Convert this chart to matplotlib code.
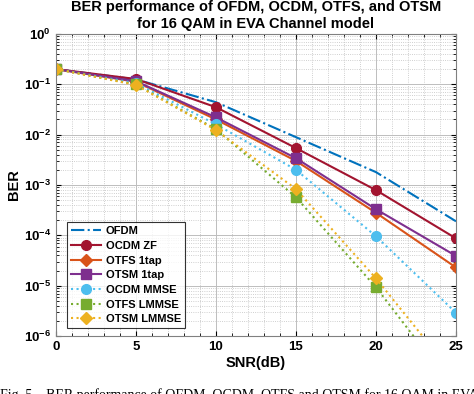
import matplotlib.pyplot as plt
import numpy as np
from matplotlib.ticker import LogLocator, MultipleLocator, NullFormatter

plt.rcParams['font.family'] = ['Liberation Sans', 'DejaVu Sans']

snr = [0, 5, 10, 15, 20, 25]

ofdm = [0.2, 0.125, 0.044, 0.0089, 0.0018, 1.9e-4]
ocdm_zf = [0.2, 0.127, 0.035, 0.0054, 7.9e-4, 8.7e-5]
otfs_1tap = [0.2, 0.112, 0.020, 0.0030, 2.8e-4, 2.3e-5]
otsm_1tap = [0.2, 0.115, 0.022, 0.0034, 3.3e-4, 3.9e-5]
ocdm_mmse = [0.2, 0.105, 0.016, 0.0020, 9.6e-5, 2.9e-6]
otfs_lmmse = [0.2, 0.099, 0.0128, 5.7e-4, 9.3e-6, 8e-8]
otsm_lmmse = [0.2, 0.097, 0.0123, 8.3e-4, 1.4e-5, 1.5e-7]

c_blue = (0, 0.447, 0.741)
c_red = (0.635, 0.078, 0.184)
c_orange = (0.85, 0.325, 0.098)
c_purple = (0.494, 0.184, 0.556)
c_cyan = (0.301, 0.745, 0.933)
c_green = (0.466, 0.674, 0.188)
c_yellow = (0.929, 0.694, 0.125)

fig = plt.figure(figsize=(4.74, 3.94), dpi=100)
ax = fig.add_axes([0.118, 0.147, 0.844, 0.767])

lw = 1.5
ax.semilogy(snr, ofdm, '-.', color=c_blue, lw=lw, label='OFDM')
ax.semilogy(snr, ocdm_zf, '-o', color=c_red, lw=lw, ms=7, label='OCDM ZF')
ax.semilogy(snr, otfs_1tap, '-D', color=c_orange, lw=lw, ms=6, label='OTFS 1tap')
ax.semilogy(snr, otsm_1tap, '-s', color=c_purple, lw=lw, ms=6.5, label='OTSM 1tap')
ax.semilogy(snr, ocdm_mmse, ':o', color=c_cyan, lw=lw, ms=7, label='OCDM MMSE')
ax.semilogy(snr, otfs_lmmse, ':s', color=c_green, lw=lw, ms=6.5, label='OTFS LMMSE')
ax.semilogy(snr, otsm_lmmse, ':D', color=c_yellow, lw=lw, ms=6, label='OTSM LMMSE')

ax.set_xlim(0, 25)
ax.set_ylim(1e-6, 1)
ax.xaxis.set_major_locator(MultipleLocator(5))
ax.xaxis.set_minor_locator(MultipleLocator(1))
ax.yaxis.set_major_locator(LogLocator(base=10, numticks=10))
ax.yaxis.set_minor_locator(LogLocator(base=10, subs=np.arange(2, 10), numticks=100))
ax.yaxis.set_minor_formatter(NullFormatter())
ax.grid(True, which='major', color='#bdbdbd', lw=0.7)
ax.grid(True, which='minor', color='#c0c0c0', lw=0.6, ls=':')
ax.tick_params(which='both', direction='in', top=True, right=True, labelsize=9.5)
ax.tick_params(which='minor', length=2)
for lab in ax.get_xticklabels() + ax.get_yticklabels():
    lab.set_fontweight('bold')
for s in ax.spines.values():
    s.set_color('#808080')
    s.set_linewidth(0.8)

ax.set_xlabel('SNR(dB)', fontsize=10.5, fontweight='bold', labelpad=2)
ax.set_ylabel('BER', fontsize=10.5, fontweight='bold', labelpad=2)
ax.set_title('BER performance of OFDM, OCDM, OTFS, and OTSM\nfor 16 QAM in EVA Channel model',
             fontsize=10.5, fontweight='bold', linespacing=1.3, pad=4)

leg = ax.legend(loc='lower left', bbox_to_anchor=(0.02, 0.015),
                prop={'weight': 'bold', 'size': 8}, frameon=True, fancybox=False,
                handlelength=2.7, borderpad=0.35, labelspacing=0.42, handletextpad=0.4,
                borderaxespad=0.3)
leg.get_frame().set_edgecolor('black')
leg.get_frame().set_linewidth(0.8)

fig.text(0.0, -0.02, 'Fig. 5.   BER performance of OFDM, OCDM, OTFS and OTSM for 16 QAM in EVA',
         fontsize=10, family='Liberation Serif', va='bottom')

fig.savefig('out.png', dpi=100)
